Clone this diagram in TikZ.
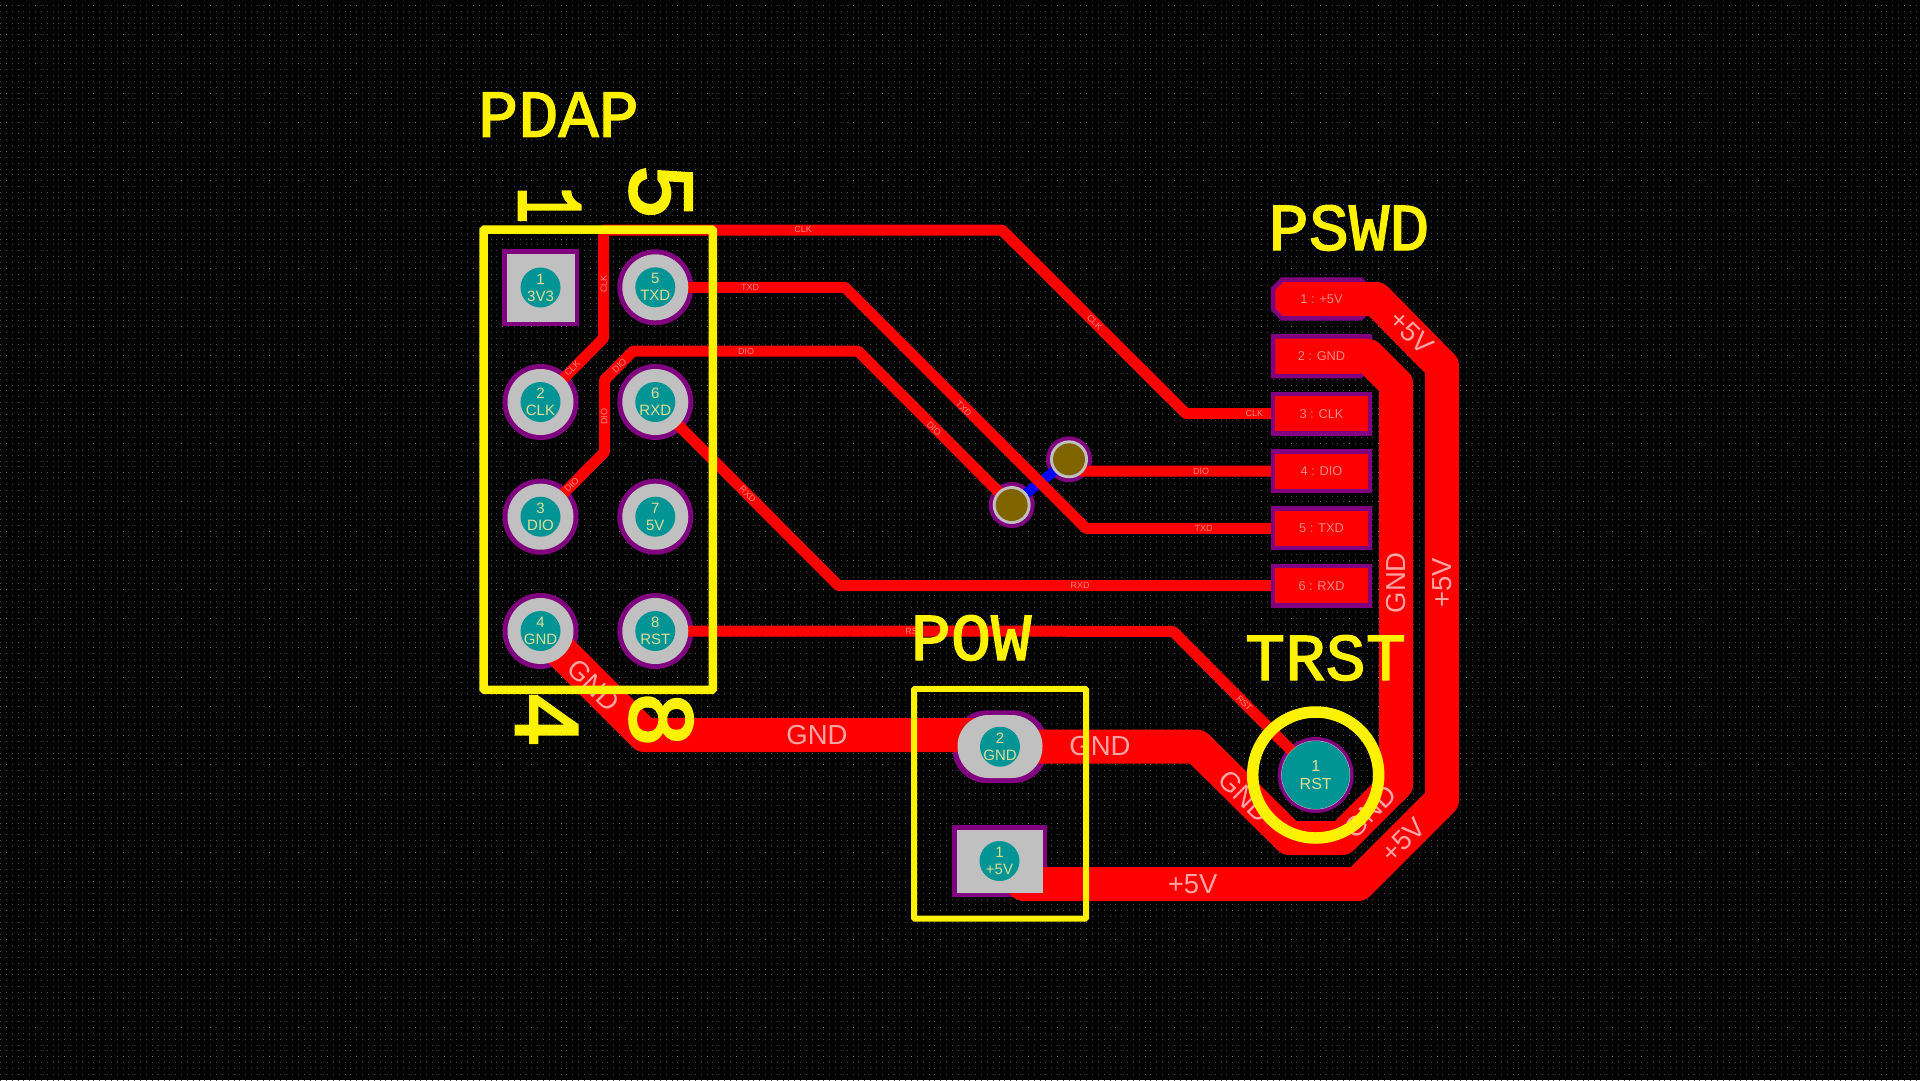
\documentclass[tikz,border=0pt]{standalone}
\usepackage{fontspec}
\setmainfont{Liberation Sans}
\newfontfamily\silkfont{Liberation Mono}[FakeBold=2]
\newfontfamily\silkpinfont{Liberation Mono}[FakeBold=3]

\definecolor{copper}{RGB}{255,0,0}
\definecolor{mask}{RGB}{128,0,128}
\definecolor{padgray}{RGB}{192,192,192}
\definecolor{hole}{RGB}{0,148,148}
\definecolor{viahole}{RGB}{128,100,0}
\definecolor{padtext}{RGB}{222,222,150}
\definecolor{tracetext}{RGB}{255,165,165}
\definecolor{tracesmall}{RGB}{255,135,135}

\tikzset{
	griddot/.style = {line width=1pt, color=black!72, dash pattern=on 1pt off 4.84pt},
	gridmajor/.style = {line width=1pt, color=black!50, dash pattern=on 1pt off 28.2pt},
	ring/.style = {circle, fill=mask, minimum size=#1,
		inner sep=0pt, outer sep=0pt},
	ring/.default = 76pt,
	land/.style = {circle, fill=padgray, minimum size=#1,
		inner sep=0pt, outer sep=0pt},
	land/.default = 66pt,
	squaremask/.style = {rectangle, fill=mask, inner sep=0pt, outer sep=0pt},
	squareland/.style = {rectangle, fill=padgray, inner sep=0pt, outer sep=0pt},
	hole/.style = {circle, fill=hole, text=padtext, minimum size=#1,
		inner sep=-14pt, outer sep=0pt, align=center,
		font=\fontsize{15}{17}\selectfont},
	hole/.default = 40pt,
	swd/.style = {rectangle, draw=mask, fill=copper, line width=4.5pt,
		minimum width=97pt, minimum height=39.5pt, inner sep=0pt},
	swdshape/.style = {draw=mask, fill=copper, line width=4.5pt},
	trace/.style = {draw=copper, line width=#1, line join=round},
	trace/.default = 11pt,
	tracelabel/.style = {text=tracesmall, inner sep=0pt,
		font=\fontsize{#1}{#1}\selectfont},
	tracelabel/.default = 9,
	netlabel/.style = {tracelabel=27.5, text=tracetext},
	silk/.style = {text=yellow, inner sep=0pt, anchor=base,
		font=\silkfont\fontsize{67}{67}\selectfont},
	silkpin/.style = {text=yellow, inner sep=0pt, anchor=base, rotate=-90,
		font=\silkpinfont\fontsize{93}{93}\selectfont},
	silkbox/.style = {rectangle, draw=yellow, inner sep=0pt, rounded corners=1pt}
}

\begin{document}
\begin{tikzpicture}[x=1pt, y=-1pt]
\fill[black] (0,0) rectangle (1920,1080);
\useasboundingbox (0,0) rectangle (1920,1080);

% grid
\foreach \row in {0,...,184}
	\draw[griddot] (0,5.5+\row*5.84) -- (1920,5.5+\row*5.84);
\foreach \row in {0,...,36}
	\draw[gridmajor] (5.8,5.5+\row*29.2) -- (1920,5.5+\row*29.2);

% solder mask
\node[squaremask, minimum size=77pt] (j1) at (540.5,287.5) {};
\node[ring] (j2) at (540.5,402) {};
\node[ring] (j3) at (540.5,516.7) {};
\node[ring] (j4) at (540.5,631) {};
\node[ring] (j5) at (655.3,287.3) {};
\node[ring] (j6) at (655.3,402) {};
\node[ring] (j7) at (655.3,516.7) {};
\node[ring] (j8) at (655.3,631) {};

\node[squaremask, minimum width=95pt, minimum height=72pt] (pow1) at (999.5,861) {};
\coordinate (pow2) at (1000,746.7);
\fill[mask, rounded corners=34pt] (952.5,710.4) rectangle (1047.5,783);

\node[ring=46] (via1) at (1011.7,505) {};
\node[ring=46] (via2) at (1069,459.3) {};
\node[ring] (trst) at (1315.7,775) {};

\coordinate (sw1) at (1321.5,299);
\coordinate (sw2) at (1321.5,356);
\draw[swdshape] (1282.2,279.6) -- (1360.7,279.6) -- (1369.7,288.6) -- (1369.7,309.4) -- (1360.7,318.4)
	-- (1282.2,318.4) -- (1273.2,309.4) -- (1273.2,288.6) -- cycle;
\draw[swdshape] (1273.2,336.3) -- (1369.7,336.3) -- (1369.7,367) -- (1360.7,376) -- (1273.2,376) -- cycle;
\node[swd] (sw3) at (1321.5,413.7) {};
\node[swd] (sw4) at (1321.5,471) {};
\node[swd] (sw5) at (1321.5,528.4) {};
\node[swd] (sw6) at (1321.5,585.7) {};

\coordinate (gndstub) at (985,735);

% traces
\draw[draw=blue, line width=10pt] (via1.center) -- (via2.center);
\draw[trace] (j2.center) -- (603.7,338) -- (603.7,230) -- (1002,230) -- (1186,413.7) -- (sw3.west);
\draw[trace] (j5.center) -- (845,287.3) -- (1086,528.4) -- (sw5.west);
\draw[trace] (j3.center) -- (604.5,452) -- (604.5,380) -- (633,351) -- (858,351) -- (via1.center);
\draw[trace] (via2.center) -- (1081,471) -- (sw4.west);
\draw[trace] (j6.center) -- (838.5,585.7) -- (sw6.west);
\draw[trace] (j8.center) -- (1173,631.3) -- (trst.center);
\draw[trace=34pt] (j4.center) -- (644.5,735) -- (gndstub);
\draw[trace=34pt] (pow2) -- (1197,746.7) -- (1289.5,838) -- (1342,838) -- (1396.2,784) -- (1396.2,384) -- (1368,356) -- (sw2);
\draw[trace=34pt] (pow1.center) -- (1024,884) -- (1358,884) -- (1442,800) -- (1442,366) -- (1376,299) -- (sw1);

% lands and holes
\node[squareland, minimum size=68pt] (j1land) at (j1) {};
\node[land] (j2land) at (j2) {};
\node[land] (j3land) at (j3) {};
\node[land] (j4land) at (j4) {};
\node[land] (j5land) at (j5) {};
\node[land] (j6land) at (j6) {};
\node[land] (j7land) at (j7) {};
\node[land] (j8land) at (j8) {};
\node[hole] (j1hole) at (j1) {1\\3V3};
\node[hole] (j2hole) at (j2) {2\\CLK};
\node[hole] (j3hole) at (j3) {3\\DIO};
\node[hole] (j4hole) at (j4) {4\\GND};
\node[hole] (j5hole) at (j5) {5\\TXD};
\node[hole] (j6hole) at (j6) {6\\RXD};
\node[hole] (j7hole) at (j7) {7\\5V};
\node[hole] (j8hole) at (j8) {8\\RST};

\node[squareland, minimum width=86pt, minimum height=63pt] (pow1land) at (pow1) {};
\fill[padgray, rounded corners=31pt] (957.5,715) rectangle (1042.5,778);
\node[hole] (pow1hole) at (pow1) {1\\+5V};
\node[hole] (pow2hole) at (pow2) {2\\GND};

\node[land=38] (via1land) at (via1) {};
\node[land=38] (via2land) at (via2) {};
\node[circle, fill=viahole, minimum size=32pt, inner sep=0pt] (via1hole) at (via1) {};
\node[circle, fill=viahole, minimum size=32pt, inner sep=0pt] (via2hole) at (via2) {};

\node[land=69] (trstland) at (trst) {};
\node[hole=68, font=\fontsize{16}{18}\selectfont] (trsthole) at (trst) {1\\RST};

% pad texts
\node[tracelabel=12.8] (sw1text) at (sw1) {1 : +5V};
\node[tracelabel=12.8] (sw2text) at (sw2) {2 : GND};
\node[tracelabel=12.8] (sw3text) at (sw3) {3 : CLK};
\node[tracelabel=12.8] (sw4text) at (sw4) {4 : DIO};
\node[tracelabel=12.8] (sw5text) at (sw5) {5 : TXD};
\node[tracelabel=12.8] (sw6text) at (sw6) {6 : RXD};

% net names
\node[tracelabel, rotate=90] (clk1) at (603.7,284) {CLK};
\node[tracelabel, rotate=45] (clk2) at (572.3,368.3) {CLK};
\node[tracelabel] (clk3) at (803,229.5) {CLK};
\node[tracelabel, rotate=-45] (clk4) at (1094.7,322) {CLK};
\node[tracelabel] (clk5) at (1254.3,413.7) {CLK};
\node[tracelabel, rotate=45] (dio1) at (619.3,365.7) {DIO};
\node[tracelabel] (dio2) at (746,351) {DIO};
\node[tracelabel, rotate=90] (dio3) at (604.3,416.7) {DIO};
\node[tracelabel, rotate=45] (dio4) at (571.7,485) {DIO};
\node[tracelabel, rotate=-45] (dio5) at (934,428.6) {DIO};
\node[tracelabel] (dio6) at (1201,471) {DIO};
\node[tracelabel] (txd1) at (750,287.3) {TXD};
\node[tracelabel, rotate=-45] (txd2) at (963.7,409) {TXD};
\node[tracelabel] (txd3) at (1203.7,528.4) {TXD};
\node[tracelabel, rotate=-45] (rxd1) at (747.7,494.3) {RXD};
\node[tracelabel] (rxd2) at (1080,585.7) {RXD};
\node[tracelabel] (rst1) at (914.3,631.5) {RST};
\node[tracelabel, rotate=-45] (rst2) at (1244.3,703.3) {RST};

\node[netlabel, rotate=-45] (gnd1) at (593.3,685) {GND};
\node[netlabel] (gnd2) at (817,735) {GND};
\node[netlabel] (gnd3) at (1100,746.5) {GND};
\node[netlabel, rotate=-45] (gnd4) at (1245,796.7) {GND};
\node[netlabel, rotate=45] (gnd5) at (1370,811.7) {GND};
\node[netlabel, rotate=90] (gnd6) at (1395.7,582.7) {GND};
\node[netlabel, rotate=90] (pwr1) at (1442.3,582.7) {+5V};
\node[netlabel, rotate=-45] (pwr2) at (1411.7,332.7) {+5V};
\node[netlabel, rotate=45] (pwr3) at (1403,840) {+5V};
\node[netlabel] (pwr4) at (1192.6,884) {+5V};

% silkscreen
\node[silkbox, line width=8.5pt, minimum width=229.2pt, minimum height=460.2pt] (pdapbox) at (598.2,459.7) {};
\node[silkbox, line width=6pt, minimum width=172pt, minimum height=229.7pt] (powbox) at (1000,803.8) {};
\node[circle, draw=yellow, line width=11.5pt, minimum size=126pt, inner sep=0pt] (trstring) at (trst) {};

\node[silk] (pdapname) at (558.5,136.7) {PDAP};
\node[silk] (pswdname) at (1349,250) {PSWD};
\node[silk] (powname) at (971,660) {POW};
\node[silk] (trstname) at (1325.5,680) {TRST};
\node[silkpin] (pin1) at (519,205) {\scalebox{0.65}[1]{1}};
\node[silkpin] (pin5) at (630.5,191.7) {5};
\node[silkpin] (pin4) at (516,719.5) {4};
\node[silkpin] (pin8) at (630.5,719.5) {8};
\end{tikzpicture}
\end{document}
